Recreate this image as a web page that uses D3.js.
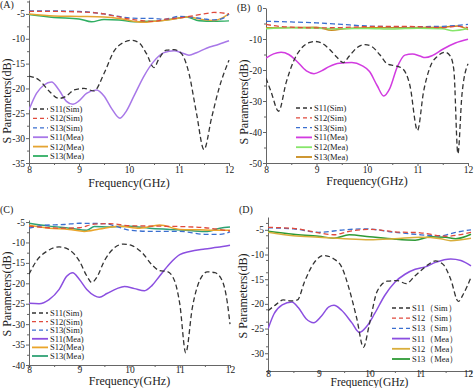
<!DOCTYPE html>
<html>
<head>
<meta charset="utf-8">
<script src="https://cdn.jsdelivr.net/npm/d3@7/dist/d3.min.js"></script>
<style>
  body { margin:0; background:#fff; }
  svg { display:block; font-family:"Liberation Serif", "DejaVu Serif", serif; }
  .axis path, .axis line { stroke:#666; }
  .axis text { fill:#222; font-size:9.5px; font-family:"Liberation Serif", serif; }
</style>
</head>
<body>
<svg id="chart" width="474" height="388"></svg>
<script>
// ---- data: [GHz, dB]
var seriesNames = ['S11(Sim)', 'S12(Sim)', 'S13(Sim)', 'S11(Mea)', 'S12(Mea)', 'S13(Mea)']
var seriesNamesD = ['S11\uff08Sim\uff09', 'S12\uff08Sim\uff09', 'S13\uff08Sim\uff09', 'S11\uff08Mea\uff09', 'S12\uff08Mea\uff09', 'S13\uff08Mea\uff09']
var xTicks = [8, 9, 10, 11, 12]

// (A)
var aS11Sim = [[8,-17.5],[8.2,-18.3],[8.4,-20.5],[8.6,-22],[8.75,-21.5],[8.9,-20.3],[9.1,-20],[9.3,-20.5],[9.5,-17],[9.7,-12.5],[9.9,-10.7],[10.05,-10.3],[10.2,-10.8],[10.35,-13],[10.5,-15.8],[10.6,-14],[10.75,-12.3],[10.9,-12.2],[11.05,-13],[11.2,-17],[11.35,-25],[11.5,-32.3],[11.65,-26],[11.8,-20],[12,-14.3]]
var aS12Sim = [[8,-4.5],[8.5,-4.5],[9,-4.6],[9.5,-5],[9.8,-5.6],[10,-6],[10.3,-6.4],[10.5,-6.5],[10.7,-6.1],[11,-5.8],[11.2,-5.5],[11.5,-5],[11.7,-4.7],[12,-5]]
var aS13Sim = [[8,-4.4],[8.5,-4.4],[9,-4.5],[9.5,-5],[9.8,-5.5],[10,-5.8],[10.3,-5.9],[10.5,-5.9],[10.7,-6.1],[11,-5.5],[11.2,-5.6],[11.5,-6],[11.7,-6.2],[11.85,-6],[12,-5]]
var aS11Mea = [[8,-24.3],[8.15,-21],[8.3,-19.3],[8.45,-18.7],[8.6,-20.3],[8.75,-22.6],[8.88,-23.2],[9,-22.5],[9.15,-21],[9.35,-20.3],[9.5,-21.5],[9.65,-24],[9.82,-26],[9.95,-24.5],[10.1,-21.5],[10.3,-17.5],[10.5,-14.5],[10.7,-12.8],[10.9,-12.4],[11.05,-12.8],[11.2,-13.3],[11.35,-12.8],[11.55,-11.9],[11.8,-11.1],[12,-10.4]]
var aS12Mea = [[8,-5],[8.5,-5.4],[9,-5.5],[9.5,-5.6],[9.8,-5.9],[10.1,-6.5],[10.3,-6.7],[10.5,-6.5],[10.8,-6.2],[11,-5.8],[11.2,-5.6],[11.4,-6],[11.7,-6.3],[11.9,-5.6],[12,-5]]
var aS13Mea = [[8,-5.1],[8.5,-5.7],[9,-6],[9.25,-6.6],[9.5,-6.1],[9.8,-6.2],[10.1,-6.6],[10.4,-6.5],[10.7,-6.3],[11,-5.8],[11.15,-5.6],[11.4,-6.4],[11.7,-6.5],[12,-6.4]]

// (B)
var bS11Sim = [[8,-22.6],[8.1,-27],[8.25,-33.3],[8.4,-24],[8.55,-17],[8.7,-13],[8.85,-11.2],[8.97,-10.8],[9.1,-11.3],[9.25,-13.2],[9.4,-15.8],[9.53,-17.6],[9.65,-15.5],[9.8,-12.8],[9.96,-11.8],[10.1,-12.5],[10.25,-15],[10.4,-18],[10.55,-18.6],[10.7,-19.5],[10.85,-25],[11,-39.5],[11.12,-27],[11.25,-19],[11.4,-15.5],[11.55,-14.3],[11.65,-15.5],[11.72,-20],[11.8,-47],[11.88,-28],[12,-18]]
var bS12Sim = [[8,-5.3],[8.2,-5.8],[8.5,-6.2],[9,-6.4],[9.5,-6.3],[10,-6],[10.5,-5.9],[11,-6],[11.5,-6.3],[11.8,-5.9],[12,-6.3]]
var bS13Sim = [[8,-4.3],[8.5,-4.5],[9,-4.8],[9.5,-5.3],[10,-5.8],[10.5,-6],[11,-6],[11.5,-5.9],[12,-5.3]]
var bS11Mea = [[8,-16.2],[8.15,-14.8],[8.3,-14.3],[8.45,-15],[8.6,-17],[8.8,-20.3],[8.95,-21.2],[9.1,-20.3],[9.25,-18.9],[9.45,-17.8],[9.7,-17.6],[9.9,-18.6],[10.05,-20.5],[10.2,-25],[10.33,-28.4],[10.45,-26],[10.6,-19],[10.75,-15.2],[10.9,-14.8],[11.05,-15.5],[11.15,-16],[11.3,-15.3],[11.5,-13.3],[11.75,-11.3],[12,-10.1]]
var bS12Mea = [[8,-6.7],[8.5,-6.4],[9,-6.5],[9.5,-6.7],[10,-6.6],[10.5,-6.8],[11,-6.5],[11.5,-6.7],[11.7,-7.3],[12,-6.6]]
var bS13Mea = [[8,-6.4],[8.5,-6.3],[9,-6.2],[9.3,-7.2],[9.6,-6.6],[10,-6.4],[10.5,-6.4],[11,-6.3],[11.5,-6.2],[11.8,-5.8],[12,-7]]

// (C)
var cS11Sim = [[8,-17.8],[8.15,-14.5],[8.35,-12.2],[8.6,-11.1],[8.8,-11.8],[9,-14.5],[9.15,-18.2],[9.25,-19.8],[9.35,-18.5],[9.5,-14.5],[9.7,-11.3],[9.88,-10.4],[10.05,-10.8],[10.25,-12.5],[10.45,-15.5],[10.6,-16.9],[10.75,-17.1],[10.9,-19.5],[11,-25],[11.12,-37],[11.25,-26],[11.4,-19.2],[11.55,-17.2],[11.7,-17.4],[11.85,-19.5],[11.95,-25],[12,-30]]
var cS12Sim = [[8,-6],[8.4,-6.4],[8.7,-6.5],[9,-6.4],[9.3,-5.5],[9.6,-5.4],[10,-5.9],[10.5,-6],[11,-6.1],[11.5,-6.4],[12,-7.2]]
var cS13Sim = [[8,-6.5],[8.3,-5.8],[8.7,-5.6],[9,-5.3],[9.5,-5.4],[9.8,-6.3],[10,-7],[10.5,-7.3],[11,-7.3],[11.5,-8],[11.8,-8],[12,-7.4]]
var cS11Mea = [[8,-24.9],[8.2,-25],[8.4,-24],[8.6,-21.5],[8.75,-18.3],[8.87,-17.4],[9,-19],[9.15,-21.5],[9.3,-23],[9.4,-23.4],[9.55,-22.5],[9.75,-21.3],[9.9,-20.8],[10.1,-21.3],[10.3,-21.8],[10.45,-20.5],[10.6,-18.2],[10.8,-15.2],[11,-13],[11.2,-12.2],[11.5,-11.6],[11.75,-11.2],[12,-10.7]]
var cS12Mea = [[8,-5.8],[8.4,-6.5],[8.8,-6.8],[9.1,-7.3],[9.4,-6.7],[9.8,-6],[10.2,-6.5],[10.6,-5.7],[11,-6.8],[11.4,-6.9],[11.7,-7],[12,-7]]
var cS13Mea = [[8,-5.3],[8.4,-6],[8.8,-6.5],[9.15,-7],[9.3,-6.1],[9.6,-6.2],[10,-6],[10.4,-6.5],[10.8,-6.8],[11.2,-7.1],[11.55,-7.3],[11.8,-6.5],[12,-6.2]]

// (D)
var dS11Sim = [[8,-21.4],[8.15,-20.2],[8.3,-19.2],[8.45,-19.4],[8.58,-19.2],[8.72,-15.5],[8.9,-11.8],[9.1,-10.2],[9.3,-10.9],[9.45,-12.5],[9.6,-17],[9.75,-23],[9.88,-28.8],[10,-24],[10.15,-17.5],[10.35,-15.4],[10.55,-15.3],[10.72,-15.9],[10.9,-14.3],[11.1,-12.5],[11.3,-11.3],[11.45,-12],[11.6,-15],[11.75,-19.5],[11.85,-18],[12,-14.6]]
var dS12Sim = [[8,-4.5],[8.5,-4.7],[9,-5.6],[9.3,-6],[9.6,-5.3],[10,-4.9],[10.5,-5.4],[11,-5.6],[11.5,-6.3],[12,-5.5]]
var dS13Sim = [[8,-4.6],[8.5,-4.8],[9,-5.5],[9.5,-5],[9.9,-4.8],[10.5,-5.5],[11,-6],[11.4,-6.2],[11.7,-5.5],[12,-5]]
var dS11Mea = [[8,-25.1],[8.12,-22],[8.28,-20.2],[8.47,-19.6],[8.6,-20.8],[8.75,-23],[8.9,-23.8],[9.05,-22.5],[9.2,-20.6],[9.3,-20.3],[9.45,-21.3],[9.65,-23.8],[9.8,-25.8],[9.95,-24.5],[10.1,-22],[10.3,-18.3],[10.5,-15.6],[10.7,-14],[10.9,-13],[11.1,-12.5],[11.3,-11.6],[11.6,-10.9],[11.8,-11.2],[12,-12.3]]
var dS12Mea = [[8,-5.5],[8.5,-6.2],[9,-6.5],[9.5,-6.8],[10,-7],[10.5,-6.8],[11,-6.5],[11.4,-6.8],[11.6,-7.2],[12,-6.7]]
var dS13Mea = [[8,-5.3],[8.5,-5.9],[9,-6.3],[9.3,-6.7],[9.6,-6],[10,-6.4],[10.5,-6.9],[10.9,-7.1],[11.2,-6.4],[11.5,-6.5],[11.7,-6.8],[12,-5.9]]

var aYTicks = [-5, -10, -15, -20, -25, -30, -35]
var bYTicks = [0, -10, -20, -30, -40, -50]
var cYTicks = [-5, -10, -15, -20, -25, -30, -35, -40]
var dYTicks = [-5, -10, -15, -20, -25, -30]

// ---- layout
var panels = [
  { tag:'(A)', tagX:0, tagY:8, x0:29, x1:229, y0:0, y1:163, dom:[-35, -2.2], ticks:aYTicks, minor:2.5,
    series:[aS11Sim, aS12Sim, aS13Sim, aS11Mea, aS12Mea, aS13Mea],
    colors:['#333', '#e04a3c', '#3a6fd0', '#a878e8', '#e5a432', '#2fae62'],
    names:seriesNames, leg:{ x:33, y:109, dy:9.4, len:15 },
    titleX:11, titleY:101, xPad:0, freqY:187, freqSize:12 },
  { tag:'(B)', tagX:237, tagY:11, x0:266, x1:468, y0:8, y1:163, dom:[-50, 0], ticks:bYTicks, minor:5,
    series:[bS11Sim, bS12Sim, bS13Sim, bS11Mea, bS12Mea, bS13Mea],
    colors:['#333', '#e04a3c', '#3a6fd0', '#d23be0', '#86e66a', '#c98c1c'],
    names:seriesNames, leg:{ x:296, y:108, dy:9.8, len:16 },
    titleX:248, titleY:102, xPad:0, freqY:185, freqSize:12 },
  { tag:'(C)', tagX:0, tagY:213, x0:29, x1:230, y0:220, y1:365, dom:[-40, -4.5], ticks:cYTicks, minor:2.5,
    series:[cS11Sim, cS12Sim, cS13Sim, cS11Mea, cS12Mea, cS13Mea],
    colors:['#333', '#e04a3c', '#3a6fd0', '#8b4fe0', '#eaa52a', '#2fa274'],
    names:seriesNames, leg:{ x:32, y:313, dy:8.6, len:16 },
    titleX:11, titleY:294, xPad:-2, freqY:385, freqSize:12 },
  { tag:'(D)', tagX:239, tagY:213, x0:268, x1:471, y0:217, y1:371, dom:[-33.6, -2.4], ticks:dYTicks, minor:2.5,
    series:[dS11Sim, dS12Sim, dS13Sim, dS11Mea, dS12Mea, dS13Mea],
    colors:['#333', '#e04a3c', '#3a6fd0', '#8b4fe0', '#d9ae3c', '#2e9a36'],
    names:seriesNamesD, leg:{ x:392, y:308, dy:10.2, len:18 },
    titleX:247, titleY:296, xPad:-3.5, freqY:385.5, freqSize:11.5 }
]

var svg = d3.select('#chart')

panels.forEach(function(p, pi) {
  var x = d3.scaleLinear().domain([8, 12]).range([p.x0, p.x1])
  var y = d3.scaleLinear().domain(p.dom).range([p.y1, p.y0])
  var g = svg.append('g')

  var clipId = 'clip' + pi
  g.append('clipPath').attr('id', clipId)
    .append('rect').attr('x', p.x0).attr('y', p.y0 - 1).attr('width', p.x1 - p.x0 + 2).attr('height', p.y1 - p.y0 + 1)

  // minor ticks
  var yMinor = d3.range(p.dom[0], p.dom[1] + 0.01, p.minor).filter(function(v) { return p.ticks.indexOf(v) < 0 })
  g.append('g').attr('class', 'axis').attr('transform', 'translate(' + p.x0 + ',0)')
    .call(d3.axisLeft(y).tickValues(yMinor).tickSize(2).tickFormat(''))
    .select('.domain').remove()
  g.append('g').attr('class', 'axis').attr('transform', 'translate(0,' + p.y1 + ')')
    .call(d3.axisBottom(x).tickValues([8.5, 9.5, 10.5, 11.5]).tickSize(2).tickFormat(''))
    .select('.domain').remove()

  // major axes
  var ya = g.append('g').attr('class', 'axis').attr('transform', 'translate(' + p.x0 + ',0)')
    .call(d3.axisLeft(y).tickValues(p.ticks).tickSize(3).tickSizeOuter(0).tickPadding(1))
  ya.selectAll('text').text(function(d) { return d < 0 ? '-' + Math.abs(d) : d })
  var xa = g.append('g').attr('class', 'axis').attr('transform', 'translate(0,' + p.y1 + ')')
    .call(d3.axisBottom(x).tickValues(xTicks).tickSize(3).tickSizeOuter(0).tickPadding(p.xPad).tickFormat(d3.format('d')))
  if (p.x1 > 470) xa.selectAll('text').filter(function(d) { return d == 12 }).attr('dx', -3)

  g.append('text').attr('x', p.tagX).attr('y', p.tagY).attr('font-size', 10).attr('fill', '#222').text(p.tag)
  g.append('text').attr('x', (p.x0 + p.x1) / 2).attr('y', p.freqY).attr('text-anchor', 'middle')
    .attr('font-size', p.freqSize).attr('fill', '#222').text('Frequency(GHz)')
  g.append('text').attr('transform', 'translate(' + p.titleX + ',' + p.titleY + ') rotate(-90)')
    .attr('text-anchor', 'middle').attr('font-size', 12).attr('fill', '#222').text('S Parameters(dB)')

  var line = d3.line().x(function(d) { return x(d[0]) }).y(function(d) { return y(d[1]) }).curve(d3.curveMonotoneX)
  var lines = g.append('g').attr('clip-path', 'url(#' + clipId + ')')
  // measured lines first, simulated dashed lines on top
  var order = [5, 4, 3, 0, 2, 1]
  order.forEach(function(si) {
    lines.append('path').datum(p.series[si])
      .attr('d', line).attr('fill', 'none')
      .attr('stroke', p.colors[si])
      .attr('stroke-width', si < 3 ? 1.3 : 1.5)
      .attr('stroke-dasharray', si < 3 ? '5,3' : null)
  })

  // legend
  p.names.forEach(function(n, si) {
    var ly = p.leg.y + si * p.leg.dy
    g.append('line').attr('x1', p.leg.x).attr('x2', p.leg.x + p.leg.len).attr('y1', ly).attr('y2', ly)
      .attr('stroke', p.colors[si]).attr('stroke-width', si < 3 ? 1.3 : 1.8)
      .attr('stroke-dasharray', si < 3 ? '4,3' : null)
    g.append('text').attr('x', p.leg.x + p.leg.len + 2).attr('y', ly + 3).attr('font-size', 8.5).attr('fill', '#222').text(n)
  })
})
</script>
</body>
</html>
